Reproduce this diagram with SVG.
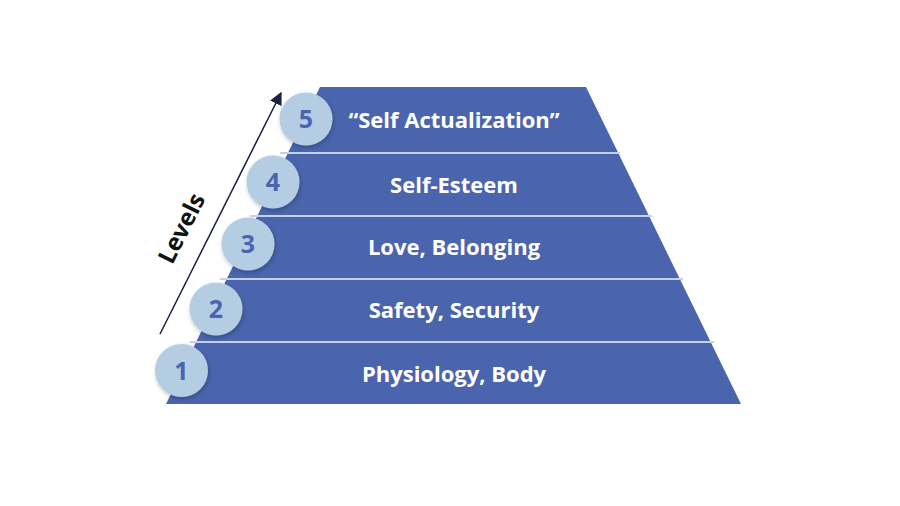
<svg xmlns="http://www.w3.org/2000/svg" width="900" height="506" viewBox="0 0 900 506">
<style>
.band{fill:#4a65ae}
.sep{stroke:#c3d1ec;stroke-width:2}
.lbl{font-family:"Open Sans","Liberation Sans",sans-serif;font-weight:700;font-size:22px;fill:#ffffff;text-anchor:middle}
.circ{fill:#b5cde3}
.num{font-family:"Open Sans","Liberation Sans",sans-serif;font-weight:700;font-size:25px;fill:#4a65ae;text-anchor:middle}
</style>
<defs>
<marker id="ah" viewBox="0 0 10 10" refX="9" refY="5" markerWidth="8.5" markerHeight="8.5" orient="auto" markerUnits="strokeWidth">
<path d="M0,0 L10,5 L0,10 Z" fill="#1b2340"/>
</marker>
<filter id="sh" x="-30%" y="-30%" width="160%" height="160%">
<feDropShadow dx="1" dy="2" stdDeviation="2" flood-color="#000" flood-opacity="0.25"/>
</filter>
</defs>
<rect width="900" height="506" fill="#ffffff"/>
<g id="pyramid">
<polygon class="band" points="320,87 586,87 741,404 166,404"/>
<line class="sep" x1="280" y1="153" x2="620" y2="153"/>
<line class="sep" x1="250" y1="216" x2="652" y2="216"/>
<line class="sep" x1="220" y1="279" x2="683" y2="279"/>
<line class="sep" x1="190" y1="342" x2="714" y2="342"/>
</g>
<g id="connectors">
<line x1="160" y1="334" x2="281" y2="93" stroke="#1b2340" stroke-width="1.5" marker-end="url(#ah)"/>
<text x="189" y="232" transform="rotate(-63.4 189 232)" font-family="Open Sans, Liberation Sans, sans-serif" font-weight="700" font-size="24" fill="#111111" text-anchor="middle">Levels</text>
</g>
<g id="level5">
<text class="lbl" x="454" y="128">“Self Actualization”</text>
<circle class="circ" cx="306" cy="119" r="26.5" filter="url(#sh)"/>
<text class="num" x="306" y="128">5</text>
</g>
<g id="level4">
<text class="lbl" x="454" y="193">Self-Esteem</text>
<circle class="circ" cx="273" cy="182" r="26.5" filter="url(#sh)"/>
<text class="num" x="273" y="191">4</text>
</g>
<g id="level3">
<text class="lbl" x="454" y="255">Love, Belonging</text>
<circle class="circ" cx="248" cy="244" r="26.5" filter="url(#sh)"/>
<text class="num" x="248" y="253">3</text>
</g>
<g id="level2">
<text class="lbl" x="454" y="318">Safety, Security</text>
<circle class="circ" cx="216" cy="309" r="26.5" filter="url(#sh)"/>
<text class="num" x="216" y="318">2</text>
</g>
<g id="level1">
<text class="lbl" x="454" y="382">Physiology, Body</text>
<circle class="circ" cx="181.5" cy="370.5" r="26.5" filter="url(#sh)"/>
<text class="num" x="181.5" y="379.5">1</text>
</g>
</svg>
